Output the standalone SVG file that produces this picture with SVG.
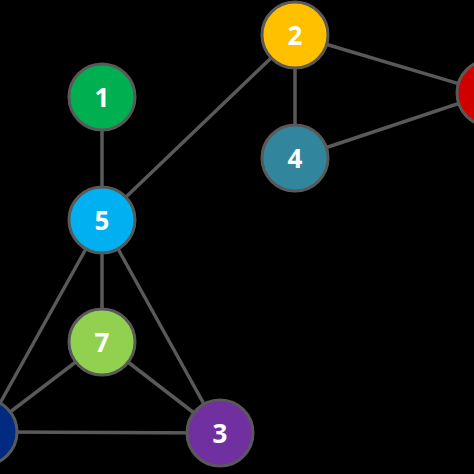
<svg xmlns="http://www.w3.org/2000/svg" width="474" height="474" viewBox="0 0 474 474">
<style>
.n{stroke:#595959;stroke-width:3}
.e line{stroke:#595959;stroke-width:3.5}
.t{fill:#fff;font-family:"Open Sans","Liberation Sans",sans-serif;font-weight:bold;font-size:26px;text-anchor:middle;dominant-baseline:central}
</style>
<rect width="474" height="474" fill="#000"/>
<g id="connectors" class="e">
<line x1="102" y1="97" x2="102" y2="220"/>
<line x1="102" y1="220" x2="295" y2="35"/>
<line x1="295" y1="35" x2="295" y2="158"/>
<line x1="295" y1="35" x2="490" y2="93"/>
<line x1="295" y1="158" x2="490" y2="93"/>
<line x1="102" y1="220" x2="102" y2="342"/>
<line x1="102" y1="220" x2="-16" y2="432"/>
<line x1="102" y1="220" x2="220" y2="433"/>
<line x1="102" y1="342" x2="-16" y2="432"/>
<line x1="102" y1="342" x2="220" y2="433"/>
<line x1="-16" y1="432" x2="220" y2="433"/>
</g>
<g id="node1"><circle class="n" cx="102" cy="97" r="33" fill="#00B050"/><text class="t" x="102" y="97">1</text></g>
<g id="node2"><circle class="n" cx="295" cy="35" r="33" fill="#FFC000"/><text class="t" x="295" y="35">2</text></g>
<g id="node4"><circle class="n" cx="295" cy="158" r="33" fill="#31859C"/><text class="t" x="295" y="158">4</text></g>
<g id="node5"><circle class="n" cx="102" cy="220" r="33" fill="#00B0F0"/><text class="t" x="102" y="220">5</text></g>
<g id="node7"><circle class="n" cx="102" cy="342" r="33" fill="#92D050"/><text class="t" x="102" y="342">7</text></g>
<g id="node3"><circle class="n" cx="220" cy="433" r="33" fill="#7030A0"/><text class="t" x="220" y="433">3</text></g>
<g id="node6"><circle class="n" cx="-16" cy="432" r="33" fill="#002B80"/></g>
<g id="node8"><circle class="n" cx="490" cy="93" r="33" fill="#D00000"/></g>
</svg>
